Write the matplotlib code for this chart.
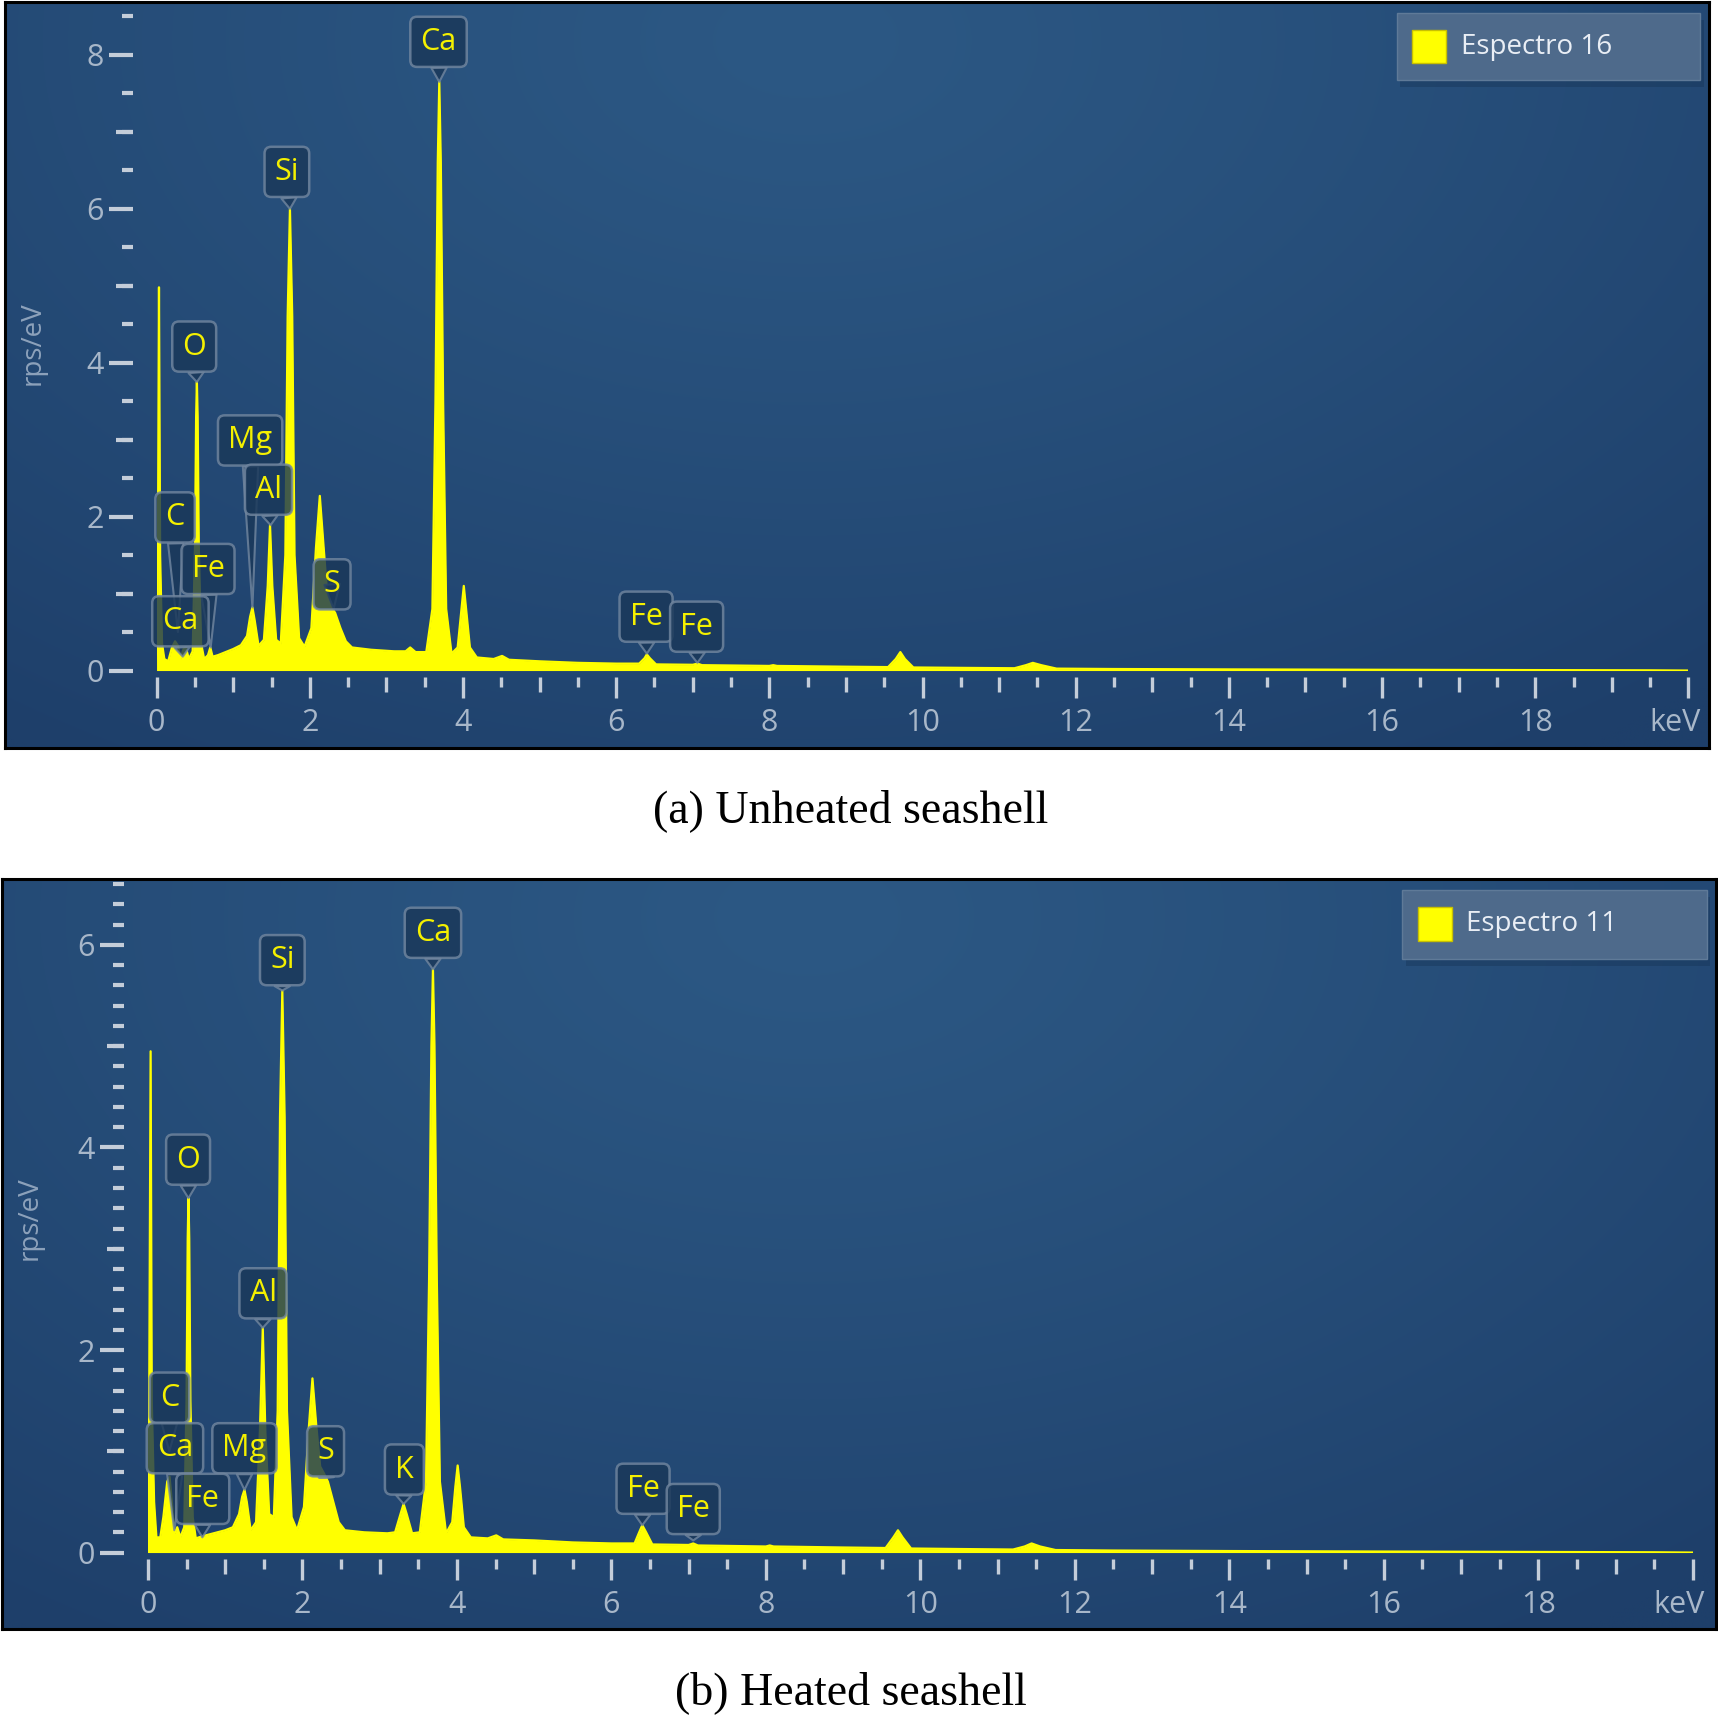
import numpy as np
import matplotlib
matplotlib.use("Agg")
import matplotlib.pyplot as plt
import matplotlib.transforms as mtransforms
from matplotlib.patches import Rectangle
from matplotlib.ticker import FixedLocator, FixedFormatter

# ---------------- data ----------------
# (a) Unheated seashell  -- energy (keV) / counts (rps/eV)
energy_a = [0.00, 0.015, 0.03, 0.045, 0.07, 0.10, 0.15, 0.20, 0.24, 0.28, 0.31, 0.35, 0.38, 0.42,
            0.47, 0.50, 0.515, 0.525, 0.535, 0.55, 0.58, 0.62, 0.67, 0.70, 0.73, 0.80, 0.90, 1.00,
            1.10, 1.18, 1.22, 1.25, 1.28, 1.33, 1.40, 1.45, 1.48, 1.51, 1.56, 1.62, 1.68, 1.71,
            1.74, 1.77, 1.80, 1.86, 1.93, 2.02, 2.08, 2.13, 2.18, 2.23, 2.28, 2.33, 2.40, 2.47,
            2.55, 2.80, 3.10, 3.25, 3.31, 3.38, 3.52, 3.60, 3.64, 3.67, 3.69, 3.71, 3.74, 3.78,
            3.85, 3.93, 3.98, 4.01, 4.04, 4.09, 4.18, 4.40, 4.51, 4.60, 5.00, 5.50, 6.00, 6.30,
            6.37, 6.40, 6.44, 6.52, 7.00, 7.06, 7.12, 8.00, 8.05, 8.10, 9.00, 9.55, 9.65, 9.71,
            9.77, 9.88, 10.50, 11.20, 11.35, 11.44, 11.55, 11.75, 12.50, 14.00, 16.00, 18.00,
            19.50, 20.00]
counts_a = [0.00, 1.20, 4.98, 1.50, 0.35, 0.15, 0.12, 0.30, 0.38, 0.32, 0.15, 0.28, 0.30, 0.15,
            0.25, 1.60, 3.30, 3.75, 3.30, 1.60, 0.35, 0.15, 0.20, 0.30, 0.18, 0.20, 0.24, 0.28,
            0.33, 0.45, 0.70, 0.82, 0.65, 0.32, 0.40, 1.10, 1.89, 1.10, 0.40, 0.35, 1.50, 4.60,
            6.00, 4.60, 1.50, 0.42, 0.31, 0.55, 1.60, 2.27, 1.60, 0.95, 0.82, 0.75, 0.55, 0.38,
            0.30, 0.27, 0.25, 0.25, 0.30, 0.24, 0.24, 0.80, 3.50, 6.60, 7.65, 6.60, 3.50, 0.80,
            0.22, 0.30, 0.80, 1.10, 0.80, 0.30, 0.17, 0.15, 0.19, 0.14, 0.12, 0.10, 0.09, 0.09,
            0.16, 0.21, 0.16, 0.08, 0.075, 0.09, 0.07, 0.06, 0.07, 0.06, 0.05, 0.045, 0.15, 0.24,
            0.15, 0.04, 0.035, 0.03, 0.07, 0.10, 0.07, 0.025, 0.02, 0.015, 0.01, 0.006,
            0.003, 0.00]

# (b) Heated seashell
energy_b = [0.00, 0.015, 0.035, 0.05, 0.08, 0.11, 0.16, 0.20, 0.25, 0.28, 0.31, 0.34, 0.38, 0.42,
            0.47, 0.50, 0.515, 0.525, 0.535, 0.55, 0.58, 0.62, 0.70, 0.80, 0.90, 1.00, 1.10,
            1.18, 1.22, 1.25, 1.28, 1.33, 1.40, 1.45, 1.487, 1.52, 1.57, 1.63, 1.68, 1.71, 1.74,
            1.77, 1.80, 1.86, 1.93, 2.02, 2.08, 2.13, 2.18, 2.23, 2.28, 2.33, 2.40, 2.47, 2.55,
            2.80, 3.10, 3.20, 3.27, 3.31, 3.35, 3.42, 3.52, 3.60, 3.64, 3.67, 3.69, 3.71, 3.74,
            3.78, 3.86, 3.94, 3.98, 4.01, 4.04, 4.09, 4.18, 4.40, 4.51, 4.60, 5.00, 5.50, 6.00,
            6.30, 6.36, 6.40, 6.45, 6.53, 7.00, 7.06, 7.12, 8.00, 8.05, 8.10, 9.00, 9.55, 9.65,
            9.71, 9.77, 9.88, 10.50, 11.20, 11.35, 11.44, 11.55, 11.75, 12.50, 14.00, 16.00,
            18.00, 19.50, 20.00]
counts_b = [0.00, 1.20, 4.95, 1.50, 0.50, 0.15, 0.15, 0.35, 0.70, 0.75, 0.50, 0.18, 0.25, 0.15,
            0.25, 1.50, 3.10, 3.50, 3.10, 1.50, 0.35, 0.14, 0.16, 0.18, 0.20, 0.22, 0.25,
            0.38, 0.55, 0.62, 0.50, 0.22, 0.30, 1.20, 2.22, 1.20, 0.38, 0.35, 1.40, 4.30, 5.55,
            4.30, 1.40, 0.35, 0.22, 0.45, 1.20, 1.72, 1.25, 0.85, 0.78, 0.70, 0.50, 0.30, 0.22,
            0.20, 0.19, 0.20, 0.38, 0.48, 0.38, 0.19, 0.20, 0.70, 2.70, 5.00, 5.76, 5.00, 2.70,
            0.70, 0.19, 0.30, 0.65, 0.86, 0.65, 0.25, 0.15, 0.14, 0.17, 0.13, 0.12, 0.10, 0.09,
            0.09, 0.20, 0.27, 0.20, 0.08, 0.075, 0.09, 0.07, 0.06, 0.07, 0.06, 0.05, 0.045, 0.15,
            0.22, 0.15, 0.04, 0.035, 0.03, 0.06, 0.09, 0.06, 0.025, 0.02, 0.015, 0.01,
            0.006, 0.003, 0.00]

# element labels: name, peak energy, pointer y, label-box centre (x, y)
labels_a_el = ["Ca", "Si", "O", "Mg", "Al", "C", "Fe", "Ca", "S", "Fe", "Fe"]
labels_a_x = [3.69, 1.74, 0.525, 1.25, 1.487, 0.277, 0.705, 0.341, 2.31, 6.40, 7.06]
labels_a_tip = [7.65, 6.00, 3.75, 0.82, 1.89, 0.50, 0.30, 0.18, 0.80, 0.22, 0.10]
labels_a_bx = [3.68, 1.70, 0.49, 1.22, 1.46, 0.24, 0.67, 0.31, 2.29, 6.39, 7.05]
labels_a_by = [8.17, 6.48, 4.21, 2.99, 2.35, 1.99, 1.32, 0.64, 1.12, 0.70, 0.57]

labels_b_el = ["Ca", "Si", "O", "Al", "C", "Ca", "Mg", "Fe", "S", "K", "Fe", "Fe"]
labels_b_x = [3.69, 1.74, 0.525, 1.487, 0.277, 0.341, 1.25, 0.705, 2.31, 3.31, 6.40, 7.06]
labels_b_tip = [5.76, 5.55, 3.50, 2.22, 1.00, 0.22, 0.62, 0.15, 0.74, 0.48, 0.27, 0.12]
labels_b_bx = [3.69, 1.74, 0.52, 1.49, 0.28, 0.35, 1.25, 0.71, 2.30, 3.32, 6.41, 7.06]
labels_b_by = [6.12, 5.85, 3.88, 2.56, 1.53, 1.03, 1.03, 0.53, 1.00, 0.82, 0.63, 0.43]

legend_a = "Espectro 16"
legend_b = "Espectro 11"
caption_a = "(a) Unheated seashell"
caption_b = "(b) Heated seashell"

x_major = [0, 2, 4, 6, 8, 10, 12, 14, 16, 18, 20]
x_major_lbl = ["0", "2", "4", "6", "8", "10", "12", "14", "16", "18", "keV"]

# ---------------- style ----------------
FONT = ["Open Sans", "DejaVu Sans"]
TICKC = "#c4cdd9"
LBLC = "#a8b7c9"
YEL = "#ffff00"
BOXFC = "#1a3859"
BOXEC = "#71869f"
LEGFC = "#4e6a8b"

W = H = 17.18
fig = plt.figure(figsize=(W, H), dpi=100)
fig.patch.set_facecolor("white")


def panel_bg(rect):
    bg = fig.add_axes(rect, zorder=0)
    ny, nx = 200, 400
    u = np.linspace(0, 1, nx)[None, :]
    v = np.linspace(1, 0, ny)[:, None]
    t = np.sqrt(((u - 0.47) / 0.8) ** 2 + ((v - 0.95) / 1.15) ** 2)
    t = np.clip(t, 0, 1) ** 1.2
    light = np.array([44, 88, 132]) / 255
    dark = np.array([30, 63, 106]) / 255
    img = light[None, None, :] * (1 - t[..., None]) + dark[None, None, :] * t[..., None]
    bg.imshow(img, extent=[0, 1, 0, 1], aspect="auto", interpolation="bilinear")
    bg.set_xlim(0, 1)
    bg.set_ylim(0, 1)
    bg.set_xticks([])
    bg.set_yticks([])
    for s in bg.spines.values():
        s.set_color("black")
        s.set_linewidth(2.2)
    return bg


def draw_panel(frame, rect, E, C, ymax, yminor, lab_el, lab_x, lab_tip, lab_bx, lab_by,
               legend_text, leg_rect, caption, cap_y):
    bg = panel_bg(frame)
    ax = fig.add_axes(rect, zorder=2)
    ax.set_facecolor("none")
    ax.fill_between(E, C, 0, color=YEL, lw=0, zorder=2)
    ax.plot(E, C, color=YEL, lw=1.6, zorder=2)
    ax.set_xlim(0, 20)
    ax.set_ylim(0, ymax)
    for s in ax.spines.values():
        s.set_visible(False)
    ax.spines["bottom"].set_position(("outward", 5))
    ax.spines["left"].set_position(("outward", 17))

    # x ticks
    ax.xaxis.set_major_locator(FixedLocator(x_major))
    ax.xaxis.set_major_formatter(FixedFormatter(x_major_lbl))
    ax.xaxis.set_minor_locator(FixedLocator(np.arange(0.5, 20, 1.0)))
    ax.tick_params(axis="x", which="major", length=15, width=2.4, color=TICKC, pad=7,
                   labelsize=22, labelcolor=LBLC)
    ax.tick_params(axis="x", which="minor", length=7, width=2.4, color=TICKC)
    # y ticks
    yt = [v for v in range(0, int(ymax) + 1, 2)]
    ax.yaxis.set_major_locator(FixedLocator(yt))
    ax.yaxis.set_major_formatter(FixedFormatter([str(v) for v in yt]))
    ax.yaxis.set_minor_locator(FixedLocator(np.arange(0, ymax + 1e-6, yminor)))
    ax.tick_params(axis="y", which="major", length=17, width=3.0, color=TICKC, pad=4,
                   labelsize=22, labelcolor=LBLC)
    ax.tick_params(axis="y", which="minor", length=8, width=3.0, color=TICKC)
    for t in ax.get_xticklabels() + ax.get_yticklabels():
        t.set_fontfamily(FONT)
    # the "keV" unit label sits flush right, inside the frame
    kev = ax.get_xticklabels()[-1]
    kev.set_ha("right")
    kev.set_transform(kev.get_transform() +
                      mtransforms.ScaledTranslation(12 / 100, 0, fig.dpi_scale_trans))

    # medium ticks (odd integers) via secondary axes
    h_pt = rect[3] * H * 72
    w_pt = rect[2] * W * 72
    secx = ax.secondary_xaxis(-5 / h_pt)
    secx.xaxis.set_major_locator(FixedLocator(np.arange(1, 20, 2)))
    secx.tick_params(axis="x", length=11, width=2.4, color=TICKC, labelbottom=False)
    for s in secx.spines.values():
        s.set_visible(False)
    secy = ax.secondary_yaxis(-17 / w_pt)
    secy.yaxis.set_major_locator(FixedLocator(np.arange(1, ymax, 2)))
    secy.tick_params(axis="y", length=12, width=3.0, color=TICKC, labelleft=False)
    for s in secy.spines.values():
        s.set_visible(False)

    # element labels
    for el, x, tip, bx, by in zip(lab_el, lab_x, lab_tip, lab_bx, lab_by):
        ax.annotate(el, xy=(x, tip), xytext=(bx, by), textcoords="data",
                    ha="center", va="center", color="#f4f000", fontsize=22,
                    fontfamily=FONT, zorder=5,
                    bbox=dict(boxstyle="round,pad=0.33,rounding_size=0.22", fc=BOXFC,
                              ec=BOXEC, lw=1.8, alpha=0.82),
                    arrowprops=dict(arrowstyle="wedge,tail_width=0.5,shrink_factor=0.5",
                                    fc=BOXFC, ec=BOXEC, lw=1.5, alpha=0.82,
                                    shrinkA=0, shrinkB=0))

    # legend (drawn like the instrument software)
    lx0, ly0, lx1, ly1 = leg_rect
    fig.patches.append(Rectangle((lx0 + 0.002, ly0 - 0.004), lx1 - lx0, ly1 - ly0,
                                 transform=fig.transFigure, fc="#14304f", ec="none",
                                 alpha=0.35, zorder=3))
    fig.patches.append(Rectangle((lx0, ly0), lx1 - lx0, ly1 - ly0, transform=fig.transFigure,
                                 fc=LEGFC, ec="#5f7a98", lw=1, zorder=4))
    sh = ly1 - ly0
    fig.patches.append(Rectangle((lx0 + 0.009, ly0 + 0.25 * sh), 0.0198, 0.5 * sh,
                                 transform=fig.transFigure, fc=YEL, ec="#c8c000", lw=1,
                                 zorder=5))
    fig.text(lx0 + 0.037, ly0 + 0.5 * sh, legend_text, color="#e9eef5", fontsize=20,
             fontfamily=FONT, va="center", ha="left", zorder=6)

    # y label
    fig.text(frame[0] + 0.016, rect[1] + rect[3] * 0.5, "rps/eV", rotation=90,
             color="#8da2bb", fontsize=20, fontfamily=FONT, ha="center", va="center")
    # caption
    fig.text(0.495, cap_y, caption, fontsize=33, fontfamily=["Liberation Serif", "DejaVu Serif"],
             ha="center", va="center", color="black")
    return ax


S = 1568.0
# panel (a)
frame_a = [5 / S, 1 - 683 / S, (1560 - 5) / S, (683 - 2) / S]
rect_a = [143 / S, 1 - 612 / S, (1541 - 143) / S, (612 - 15) / S]
leg_a = (1275 / S, 1 - 73 / S, 1552 / S, 1 - 12 / S)
draw_panel(frame_a, rect_a, energy_a, counts_a, 8.5, 0.5,
           labels_a_el, labels_a_x, labels_a_tip, labels_a_bx, labels_a_by,
           legend_a, leg_a, caption_a, 1 - 740 / S)

# panel (b)
frame_b = [2 / S, 1 - 1487 / S, (1566 - 2) / S, (1487 - 802) / S]
rect_b = [135 / S, 1 - 1417 / S, (1545 - 135) / S, (1417 - 807) / S]
leg_b = (1280 / S, 1 - 875 / S, 1558 / S, 1 - 812 / S)
draw_panel(frame_b, rect_b, energy_b, counts_b, 6.6, 0.2,
           labels_b_el, labels_b_x, labels_b_tip, labels_b_bx, labels_b_by,
           legend_b, leg_b, caption_b, 1 - 1545 / S)

fig.savefig("out.png", dpi=100, facecolor="white")
